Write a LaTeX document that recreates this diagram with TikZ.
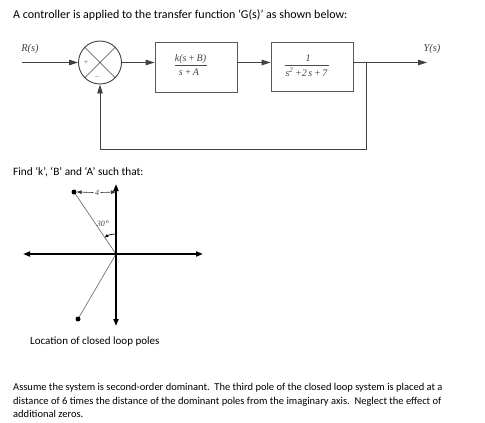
\documentclass[tikz,border=0pt]{standalone}
\usepackage{fontspec}
\setmainfont{Carlito}
\newfontfamily\tms{Liberation Serif}
\usetikzlibrary{arrows.meta}
\begin{document}
\begin{tikzpicture}[x=1pt,y=-1pt,
  wire/.style={draw=black!75, line width=0.9pt},
  arr/.style={wire, -{Triangle[length=9pt,width=5.5pt]}},
  blk/.style={draw=black!65, line width=0.8pt, minimum width=82pt, minimum height=50pt, inner sep=0},
  lbl/.style={font=\tms\itshape\fontsize{10}{11}\selectfont, text=black!75, inner sep=0},
  sgn/.style={font=\tms\fontsize{7}{8}\selectfont, text=black!75, inner sep=0},
  txt/.style={font=\fontsize{10.5}{12}\selectfont, anchor=base west, inner sep=0},
  fracrule/.style={draw=black!70, line width=0.6pt},
  axis/.style={draw=black, line width=1.8pt, {Triangle[length=7pt,width=5pt]}-{Triangle[length=7pt,width=5pt]}},
  pline/.style={draw=black!55, line width=0.7pt},
  pole/.style={circle, fill=black, minimum size=5pt, inner sep=0},
]
\useasboundingbox (0,0) rectangle (485,423);
% texts
\node[txt, font=\fontsize{12}{14}\selectfont] (title) at (13,18.5) {A controller is applied to the transfer function ‘G(s)’ as shown below:};
\node[txt, font=\fontsize{11.3}{13}\selectfont] (find) at (13,175.5) {Find ‘k’, ‘B’ and ‘A’ such that:};
\node[txt, font=\fontsize{11}{13}\selectfont] (loc) at (30,344.5) {Location of closed loop poles};
\node[txt] (p1) at (13,390) {Assume the system is second-order dominant.\ \ The third pole of the closed loop system is placed at a};
\node[txt] (p2) at (13,404) {distance of 6 times the distance of the dominant poles from the imaginary axis.\ \ Neglect the effect of};
\node[txt] (p3) at (13,417) {additional zeros.};
% block diagram
\node[circle, draw=black!75, line width=0.9pt, minimum size=43pt, inner sep=0] (sum) at (100,62.5) {};
\draw[wire, line width=0.7pt] (sum.north west) -- (sum.south east);
\draw[wire, line width=0.7pt] (sum.north east) -- (sum.south west);
\node[sgn] (plus) at (86,63) {+};
\node[sgn] (minus) at (97,77.5) {–};
\node[blk] (b1) at (196,67) {};
\node[blk, minimum height=49pt] (b2) at (312,66.5) {};
\node[lbl, font=\tms\itshape\fontsize{10.5}{11}\selectfont] (rs) at (30,48.5) {R(s)};
\node[lbl, font=\tms\itshape\fontsize{10.5}{11}\selectfont] (ys) at (432,49) {Y(s)};
\node[lbl] (n1) at (190.5,59.5) {k(s\,+\,B)};
\node[lbl] (d1) at (189,72.5) {s\,+\,A};
\draw[fracrule] (175,65.5) -- (207,65.5);
\node[lbl] (n2) at (308,58.5) {1};
\node[lbl] (d2) at (306.5,72.5) {s\textsuperscript{2}\,+2\,s\,+\,7};
\draw[fracrule] (285,65) -- (329,65);
\coordinate (in) at (22,62.5);
\coordinate (br) at (366,62.5);
\coordinate (out) at (427,62.5);
\coordinate (fb) at (366,149);
\draw[arr] (in) -- (sum.west);
\draw[arr] (sum.east) -- (sum.east -| b1.west);
\draw[arr] (b1.east |- sum) -- (b2.west |- sum);
\draw[wire] (b2.east |- sum) -- (br);
\draw[arr] (br) -- (out);
\draw[arr] (br) -- (fb) -| (sum.south);
% pole plot
\coordinate (O) at (116,254);
\coordinate (hl) at (23,254);
\coordinate (hr) at (203,254);
\coordinate (vt) at (116,184);
\coordinate (vb) at (116,326);
\draw[pline] (O) -- (74,192);
\draw[pline] (O) -- (78,319);
\draw[axis] (hl) -- (hr);
\draw[axis] (vb) -- (vt);
\node[pole] (pu) at (74,192) {};
\node[pole] (pd) at (78,319) {};
\coordinate (ax4) at (116,192);
\node[lbl, font=\tms\itshape\fontsize{8}{9}\selectfont] (four) at (97,192.5) {4};
\draw[draw=black!80, line width=0.6pt, -{Triangle[length=5pt,width=3.5pt]}] (four.west) ++(-1.5,0) -- (pu.east);
\draw[draw=black!80, line width=0.6pt, -{Triangle[length=5pt,width=3.5pt]}] (four.east) ++(1.5,0) -- (ax4);
\node[lbl, font=\tms\itshape\fontsize{8}{9}\selectfont] (ang) at (103,224) {30\textsuperscript{\,\textup{o}}};
\draw[draw=black, line width=0.7pt, -{Triangle[length=3.5pt,width=3pt]}] (O) ++(270:20) arc[start angle=270, end angle=236, radius=20];
\end{tikzpicture}
\end{document}
